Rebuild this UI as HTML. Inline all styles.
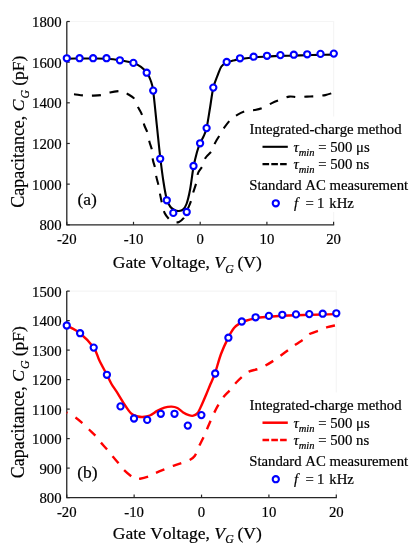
<!DOCTYPE html><html><head><meta charset="utf-8"><style>html,body{margin:0;padding:0;background:#fff;}svg{display:block;}text{stroke:#000;stroke-width:0.2px;font-kerning:none;font-feature-settings:"kern" 0;}</style></head><body>
<svg width="416" height="550" viewBox="0 0 416 550" font-family="'Liberation Serif', 'Times New Roman', serif" fill="#000">
<rect width="416" height="550" fill="#fff"/>
<path d="M66.80,21.50 H333.60 V116.50 M333.60,212.00 V224.80" fill="none" stroke="#f5f5f5" stroke-width="1.2"/>
<path d="M66.80,21.50 L66.80,224.80 L334.20,224.80" fill="none" stroke="#262626" stroke-width="1.3"/>
<line x1="66.80" y1="224.80" x2="69.80" y2="224.80" stroke="#262626" stroke-width="1.2"/>
<text x="61.6" y="230.30" text-anchor="end" font-size="14.75">800</text>
<line x1="66.80" y1="184.14" x2="69.80" y2="184.14" stroke="#262626" stroke-width="1.2"/>
<text x="61.6" y="189.64" text-anchor="end" font-size="14.75">1000</text>
<line x1="66.80" y1="143.48" x2="69.80" y2="143.48" stroke="#262626" stroke-width="1.2"/>
<text x="61.6" y="148.98" text-anchor="end" font-size="14.75">1200</text>
<line x1="66.80" y1="102.82" x2="69.80" y2="102.82" stroke="#262626" stroke-width="1.2"/>
<text x="61.6" y="108.32" text-anchor="end" font-size="14.75">1400</text>
<line x1="66.80" y1="62.16" x2="69.80" y2="62.16" stroke="#262626" stroke-width="1.2"/>
<text x="61.6" y="67.66" text-anchor="end" font-size="14.75">1600</text>
<line x1="66.80" y1="21.50" x2="69.80" y2="21.50" stroke="#262626" stroke-width="1.2"/>
<text x="61.6" y="27.00" text-anchor="end" font-size="14.75">1800</text>
<line x1="66.80" y1="224.80" x2="66.80" y2="221.80" stroke="#262626" stroke-width="1.2"/>
<text x="66.80" y="244.00" text-anchor="middle" font-size="14.75">-20</text>
<line x1="133.50" y1="224.80" x2="133.50" y2="221.80" stroke="#262626" stroke-width="1.2"/>
<text x="133.50" y="244.00" text-anchor="middle" font-size="14.75">-10</text>
<line x1="200.20" y1="224.80" x2="200.20" y2="221.80" stroke="#262626" stroke-width="1.2"/>
<text x="200.20" y="244.00" text-anchor="middle" font-size="14.75">0</text>
<line x1="266.90" y1="224.80" x2="266.90" y2="221.80" stroke="#262626" stroke-width="1.2"/>
<text x="266.90" y="244.00" text-anchor="middle" font-size="14.75">10</text>
<line x1="333.60" y1="224.80" x2="333.60" y2="221.80" stroke="#262626" stroke-width="1.2"/>
<text x="333.60" y="244.00" text-anchor="middle" font-size="14.75">20</text>
<path d="M66.80,58.70 C68.92,58.67 75.13,58.53 79.50,58.50 C83.87,58.47 88.52,58.45 93.00,58.50 C97.48,58.55 101.92,58.50 106.40,58.80 C110.88,59.10 115.40,59.60 119.90,60.30 C124.40,61.00 129.88,61.92 133.40,63.00 C136.92,64.08 138.78,65.20 141.00,66.80 C143.22,68.40 145.12,70.40 146.70,72.60 C148.28,74.80 149.43,77.03 150.50,80.00 C151.57,82.97 152.05,82.90 153.10,90.40 C154.15,97.90 155.62,113.90 156.80,125.00 C157.98,136.10 159.08,147.50 160.20,157.00 C161.32,166.50 162.40,174.92 163.50,182.00 C164.60,189.08 165.63,195.33 166.80,199.50 C167.97,203.67 169.13,205.20 170.50,207.00 C171.87,208.80 173.58,209.63 175.00,210.30 C176.42,210.97 177.67,211.13 179.00,211.00 C180.33,210.87 181.75,210.67 183.00,209.50 C184.25,208.33 185.33,207.25 186.50,204.00 C187.67,200.75 188.83,196.17 190.00,190.00 C191.17,183.83 192.33,173.33 193.50,167.00 C194.67,160.67 195.92,155.95 197.00,152.00 C198.08,148.05 198.92,145.88 200.00,143.30 C201.08,140.72 202.40,139.05 203.50,136.50 C204.60,133.95 205.52,132.75 206.60,128.00 C207.68,123.25 208.88,114.72 210.00,108.00 C211.12,101.28 212.00,93.23 213.30,87.70 C214.60,82.17 216.45,78.33 217.80,74.80 C219.15,71.27 219.95,68.53 221.40,66.50 C222.85,64.47 224.57,63.58 226.50,62.60 C228.43,61.62 230.75,61.18 233.00,60.60 C235.25,60.02 236.63,59.62 240.00,59.10 C243.37,58.58 248.77,57.92 253.20,57.50 C257.63,57.08 262.12,56.87 266.60,56.60 C271.08,56.33 275.60,56.07 280.10,55.90 C284.60,55.73 289.12,55.72 293.60,55.60 C298.08,55.48 302.52,55.32 307.00,55.20 C311.48,55.08 316.07,55.00 320.50,54.90 C324.93,54.80 331.42,54.65 333.60,54.60" fill="none" stroke="#000" stroke-width="2.1" stroke-linejoin="round"/>
<path d="M66.80,93.80 C68.00,93.87 71.30,93.93 74.00,94.20 C76.70,94.47 80.00,95.17 83.00,95.40 C86.00,95.63 89.00,95.65 92.00,95.60 C95.00,95.55 98.00,95.62 101.00,95.10 C104.00,94.58 107.07,93.17 110.00,92.50 C112.93,91.83 116.43,91.27 118.60,91.10 C120.77,90.93 121.53,91.05 123.00,91.50 C124.47,91.95 125.47,92.55 127.40,93.80 C129.33,95.05 132.80,96.73 134.60,99.00 C136.40,101.27 136.92,104.65 138.20,107.40 C139.48,110.15 141.32,112.63 142.30,115.50 C143.28,118.37 143.20,121.63 144.10,124.60 C145.00,127.57 146.80,130.40 147.70,133.30 C148.60,136.20 148.80,139.23 149.50,142.00 C150.20,144.77 151.33,146.90 151.90,149.90 C152.47,152.90 152.37,156.98 152.90,160.00 C153.43,163.02 154.53,165.23 155.10,168.00 C155.67,170.77 155.70,173.60 156.30,176.60 C156.90,179.60 158.03,182.87 158.70,186.00 C159.37,189.13 159.75,192.52 160.30,195.40 C160.85,198.28 161.30,200.42 162.00,203.30 C162.70,206.18 163.27,210.02 164.50,212.70 C165.73,215.38 167.82,217.85 169.40,219.40 C170.98,220.95 172.40,221.58 174.00,222.00 C175.60,222.42 177.40,222.53 179.00,221.90 C180.60,221.27 182.43,219.68 183.60,218.20 C184.77,216.72 185.22,214.75 186.00,213.00 C186.78,211.25 187.43,209.78 188.30,207.70 C189.17,205.62 190.42,202.92 191.20,200.50 C191.98,198.08 192.17,196.10 193.00,193.20 C193.83,190.30 195.35,186.47 196.20,183.10 C197.05,179.73 197.02,175.88 198.10,173.00 C199.18,170.12 201.45,168.35 202.70,165.80 C203.95,163.25 204.00,160.27 205.60,157.70 C207.20,155.13 210.70,152.90 212.30,150.40 C213.90,147.90 213.75,145.58 215.20,142.70 C216.65,139.82 219.57,135.50 221.00,133.10 C222.43,130.70 222.20,130.55 223.80,128.30 C225.40,126.05 228.35,121.85 230.60,119.60 C232.85,117.35 234.73,116.23 237.30,114.80 C239.87,113.37 243.12,111.80 246.00,111.00 C248.88,110.20 251.88,110.50 254.60,110.00 C257.32,109.50 259.42,109.15 262.30,108.00 C265.18,106.85 268.97,104.45 271.90,103.10 C274.83,101.75 277.02,100.98 279.90,99.90 C282.78,98.82 286.32,97.07 289.20,96.60 C292.08,96.13 294.25,97.10 297.20,97.10 C300.15,97.10 303.83,96.75 306.90,96.60 C309.97,96.45 312.53,96.45 315.60,96.20 C318.67,95.95 322.35,95.68 325.30,95.10 C328.25,94.52 331.97,93.10 333.30,92.70" fill="none" stroke="#000" stroke-width="2.1" stroke-dasharray="9 9" stroke-dashoffset="10.8"/>
<circle cx="66.80" cy="58.30" r="3.1" fill="#fff" stroke="#0000ff" stroke-width="2.1"/>
<circle cx="79.60" cy="58.20" r="3.1" fill="#fff" stroke="#0000ff" stroke-width="2.1"/>
<circle cx="93.10" cy="58.20" r="3.1" fill="#fff" stroke="#0000ff" stroke-width="2.1"/>
<circle cx="106.50" cy="58.20" r="3.1" fill="#fff" stroke="#0000ff" stroke-width="2.1"/>
<circle cx="119.90" cy="60.30" r="3.1" fill="#fff" stroke="#0000ff" stroke-width="2.1"/>
<circle cx="133.40" cy="62.90" r="3.1" fill="#fff" stroke="#0000ff" stroke-width="2.1"/>
<circle cx="146.70" cy="72.70" r="3.1" fill="#fff" stroke="#0000ff" stroke-width="2.1"/>
<circle cx="153.20" cy="90.60" r="3.1" fill="#fff" stroke="#0000ff" stroke-width="2.1"/>
<circle cx="160.20" cy="158.80" r="3.1" fill="#fff" stroke="#0000ff" stroke-width="2.1"/>
<circle cx="166.80" cy="200.30" r="3.1" fill="#fff" stroke="#0000ff" stroke-width="2.1"/>
<circle cx="173.30" cy="212.90" r="3.1" fill="#fff" stroke="#0000ff" stroke-width="2.1"/>
<circle cx="186.70" cy="212.00" r="3.1" fill="#fff" stroke="#0000ff" stroke-width="2.1"/>
<circle cx="193.50" cy="166.00" r="3.1" fill="#fff" stroke="#0000ff" stroke-width="2.1"/>
<circle cx="200.10" cy="143.30" r="3.1" fill="#fff" stroke="#0000ff" stroke-width="2.1"/>
<circle cx="206.60" cy="128.10" r="3.1" fill="#fff" stroke="#0000ff" stroke-width="2.1"/>
<circle cx="213.30" cy="87.60" r="3.1" fill="#fff" stroke="#0000ff" stroke-width="2.1"/>
<circle cx="226.70" cy="62.00" r="3.1" fill="#fff" stroke="#0000ff" stroke-width="2.1"/>
<circle cx="240.00" cy="58.30" r="3.1" fill="#fff" stroke="#0000ff" stroke-width="2.1"/>
<circle cx="253.60" cy="56.70" r="3.1" fill="#fff" stroke="#0000ff" stroke-width="2.1"/>
<circle cx="267.00" cy="55.80" r="3.1" fill="#fff" stroke="#0000ff" stroke-width="2.1"/>
<circle cx="280.40" cy="55.10" r="3.1" fill="#fff" stroke="#0000ff" stroke-width="2.1"/>
<circle cx="293.80" cy="54.70" r="3.1" fill="#fff" stroke="#0000ff" stroke-width="2.1"/>
<circle cx="307.20" cy="54.30" r="3.1" fill="#fff" stroke="#0000ff" stroke-width="2.1"/>
<circle cx="320.50" cy="53.90" r="3.1" fill="#fff" stroke="#0000ff" stroke-width="2.1"/>
<circle cx="333.80" cy="53.60" r="3.1" fill="#fff" stroke="#0000ff" stroke-width="2.1"/>
<text x="249.6" y="133.80" font-size="14.75">Integrated-charge method</text>
<line x1="262.5" y1="146.80" x2="287.8" y2="146.80" stroke="#000" stroke-width="2.1"/>
<text x="293.5" y="151.80" font-size="14.75"><tspan font-style="italic">τ</tspan><tspan font-style="italic" font-size="10.5" dy="4.0">min</tspan><tspan dy="-4.0"> = 500 μs</tspan></text>
<line x1="262.5" y1="164.10" x2="287.8" y2="164.10" stroke="#000" stroke-width="2.1" stroke-dasharray="6.6 2.2"/>
<text x="293.5" y="169.10" font-size="14.75"><tspan font-style="italic">τ</tspan><tspan font-style="italic" font-size="10.5" dy="4.0">min</tspan><tspan dy="-4.0"> = 500 ns</tspan></text>
<text x="249.2" y="190.30" font-size="14.75">Standard AC measurement</text>
<circle cx="275.8" cy="203.30" r="3.1" fill="#fff" stroke="#0000ff" stroke-width="2.1"/>
<text x="294.1" y="208.20" font-size="14.75" font-style="italic">f</text>
<text x="305.6" y="208.20" font-size="14.75">=</text>
<text x="317.1" y="208.20" font-size="14.75">1</text>
<text x="329.3" y="208.20" font-size="14.75">kHz</text>
<text x="112.78" y="268.00" font-size="17.5">Gate Voltage, <tspan font-style="italic">V</tspan></text>
<text x="225.35" y="272.90" font-size="11.8" font-style="italic">G</text>
<text x="237.43" y="268.00" font-size="17.5">(V)</text>
<g transform="translate(24.0,0) rotate(-90)"><text x="-207.63" y="0.00" font-size="17.9">Capacitance,</text><text x="-111.17" y="0.00" font-size="17.5" font-style="italic">C</text><text x="-98.45" y="4.90" font-size="11.8" font-style="italic">G</text><text x="-85.77" y="0.00" font-size="17.5">(pF)</text></g>
<text x="77.43" y="205.40" font-size="17.5">(a)</text>
<path d="M66.75,291.10 H336.30 V392.50 M336.30,488.00 V497.60" fill="none" stroke="#f5f5f5" stroke-width="1.2"/>
<path d="M66.75,291.10 L66.75,497.60 L336.90,497.60" fill="none" stroke="#262626" stroke-width="1.3"/>
<line x1="66.75" y1="497.60" x2="69.75" y2="497.60" stroke="#262626" stroke-width="1.2"/>
<text x="61.6" y="503.10" text-anchor="end" font-size="14.75">800</text>
<line x1="66.75" y1="468.10" x2="69.75" y2="468.10" stroke="#262626" stroke-width="1.2"/>
<text x="61.6" y="473.60" text-anchor="end" font-size="14.75">900</text>
<line x1="66.75" y1="438.60" x2="69.75" y2="438.60" stroke="#262626" stroke-width="1.2"/>
<text x="61.6" y="444.10" text-anchor="end" font-size="14.75">1000</text>
<line x1="66.75" y1="409.10" x2="69.75" y2="409.10" stroke="#262626" stroke-width="1.2"/>
<text x="61.6" y="414.60" text-anchor="end" font-size="14.75">1100</text>
<line x1="66.75" y1="379.60" x2="69.75" y2="379.60" stroke="#262626" stroke-width="1.2"/>
<text x="61.6" y="385.10" text-anchor="end" font-size="14.75">1200</text>
<line x1="66.75" y1="350.10" x2="69.75" y2="350.10" stroke="#262626" stroke-width="1.2"/>
<text x="61.6" y="355.60" text-anchor="end" font-size="14.75">1300</text>
<line x1="66.75" y1="320.60" x2="69.75" y2="320.60" stroke="#262626" stroke-width="1.2"/>
<text x="61.6" y="326.10" text-anchor="end" font-size="14.75">1400</text>
<line x1="66.75" y1="291.10" x2="69.75" y2="291.10" stroke="#262626" stroke-width="1.2"/>
<text x="61.6" y="296.60" text-anchor="end" font-size="14.75">1500</text>
<line x1="66.75" y1="497.60" x2="66.75" y2="494.60" stroke="#262626" stroke-width="1.2"/>
<text x="66.75" y="516.80" text-anchor="middle" font-size="14.75">-20</text>
<line x1="134.14" y1="497.60" x2="134.14" y2="494.60" stroke="#262626" stroke-width="1.2"/>
<text x="134.14" y="516.80" text-anchor="middle" font-size="14.75">-10</text>
<line x1="201.53" y1="497.60" x2="201.53" y2="494.60" stroke="#262626" stroke-width="1.2"/>
<text x="201.53" y="516.80" text-anchor="middle" font-size="14.75">0</text>
<line x1="268.91" y1="497.60" x2="268.91" y2="494.60" stroke="#262626" stroke-width="1.2"/>
<text x="268.91" y="516.80" text-anchor="middle" font-size="14.75">10</text>
<line x1="336.30" y1="497.60" x2="336.30" y2="494.60" stroke="#262626" stroke-width="1.2"/>
<text x="336.30" y="516.80" text-anchor="middle" font-size="14.75">20</text>
<path d="M66.75,325.60 C68.96,326.87 75.51,329.55 80.00,333.20 C84.49,336.85 90.48,343.00 93.70,347.50 C96.92,352.00 97.12,355.67 99.30,360.20 C101.48,364.73 104.77,370.73 106.80,374.70 C108.83,378.67 109.87,381.17 111.50,384.00 C113.13,386.83 114.55,388.48 116.60,391.70 C118.65,394.92 121.38,399.68 123.80,403.30 C126.22,406.92 128.68,411.20 131.10,413.40 C133.52,415.60 136.38,415.90 138.30,416.50 C140.22,417.10 140.68,417.17 142.60,417.00 C144.52,416.83 147.37,416.52 149.80,415.50 C152.23,414.48 154.77,412.22 157.20,410.90 C159.63,409.58 162.00,408.32 164.40,407.60 C166.80,406.88 169.43,406.53 171.60,406.60 C173.77,406.67 175.47,407.03 177.40,408.00 C179.33,408.97 181.28,411.20 183.20,412.40 C185.12,413.60 187.22,414.65 188.90,415.20 C190.58,415.75 191.85,416.05 193.30,415.70 C194.75,415.35 196.17,414.98 197.60,413.10 C199.03,411.22 200.45,407.53 201.90,404.40 C203.35,401.27 204.87,397.70 206.30,394.30 C207.73,390.90 209.05,387.50 210.50,384.00 C211.95,380.50 213.25,378.30 215.00,373.30 C216.75,368.30 218.78,359.95 221.00,354.00 C223.22,348.05 226.13,341.93 228.30,337.60 C230.47,333.27 232.13,330.33 234.00,328.00 C235.87,325.67 237.67,324.77 239.50,323.60 C241.33,322.43 242.32,321.90 245.00,321.00 C247.68,320.10 251.62,318.90 255.60,318.20 C259.58,317.50 264.45,317.20 268.90,316.80 C273.35,316.40 277.78,316.07 282.30,315.80 C286.82,315.53 291.50,315.35 296.00,315.20 C300.50,315.05 304.85,315.02 309.30,314.90 C313.75,314.78 318.20,314.63 322.70,314.50 C327.20,314.37 334.03,314.17 336.30,314.10" fill="none" stroke="#ff0000" stroke-width="2.4" stroke-linejoin="round"/>
<path d="M66.75,412.50 C68.21,413.33 72.88,415.70 75.50,417.50 C78.12,419.30 80.25,421.30 82.50,423.30 C84.75,425.30 86.83,427.42 89.00,429.50 C91.17,431.58 93.60,433.72 95.50,435.80 C97.40,437.88 98.50,439.75 100.40,442.00 C102.30,444.25 105.02,447.08 106.90,449.30 C108.78,451.52 109.70,452.90 111.70,455.30 C113.70,457.70 116.90,461.30 118.90,463.70 C120.90,466.10 121.50,467.50 123.70,469.70 C125.90,471.90 130.05,475.42 132.10,476.90 C134.15,478.38 134.68,478.28 136.00,478.60 C137.32,478.92 137.85,479.17 140.00,478.80 C142.15,478.43 146.40,477.32 148.90,476.40 C151.40,475.48 152.53,474.43 155.00,473.30 C157.47,472.17 160.65,470.85 163.70,469.60 C166.75,468.35 170.30,466.92 173.30,465.80 C176.30,464.68 179.10,463.78 181.70,462.90 C184.30,462.02 186.70,461.70 188.90,460.50 C191.10,459.30 193.30,457.90 194.90,455.70 C196.50,453.50 197.10,450.30 198.50,447.30 C199.90,444.30 201.98,440.50 203.30,437.70 C204.62,434.90 205.20,433.30 206.40,430.50 C207.60,427.70 209.17,423.92 210.50,420.90 C211.83,417.88 213.05,415.13 214.40,412.40 C215.75,409.67 217.08,407.07 218.60,404.50 C220.12,401.93 221.55,399.45 223.50,397.00 C225.45,394.55 228.22,392.17 230.30,389.80 C232.38,387.43 233.80,385.17 236.00,382.80 C238.20,380.43 241.25,377.52 243.50,375.60 C245.75,373.68 247.05,372.40 249.50,371.30 C251.95,370.20 255.55,369.95 258.20,369.00 C260.85,368.05 262.77,367.03 265.40,365.60 C268.03,364.17 271.37,362.13 274.00,360.40 C276.63,358.67 278.55,357.13 281.20,355.20 C283.85,353.27 287.48,350.58 289.90,348.80 C292.32,347.02 293.30,346.18 295.70,344.50 C298.10,342.82 301.90,340.48 304.30,338.70 C306.70,336.92 307.45,335.23 310.10,333.80 C312.75,332.37 317.32,331.20 320.20,330.10 C323.08,329.00 324.72,328.02 327.40,327.20 C330.08,326.38 334.82,325.53 336.30,325.20" fill="none" stroke="#ff0000" stroke-width="2.4" stroke-dasharray="9 9" stroke-dashoffset="8"/>
<circle cx="66.75" cy="325.50" r="3.1" fill="#fff" stroke="#0000ff" stroke-width="2.1"/>
<circle cx="80.10" cy="333.20" r="3.1" fill="#fff" stroke="#0000ff" stroke-width="2.1"/>
<circle cx="93.70" cy="347.60" r="3.1" fill="#fff" stroke="#0000ff" stroke-width="2.1"/>
<circle cx="106.90" cy="374.80" r="3.1" fill="#fff" stroke="#0000ff" stroke-width="2.1"/>
<circle cx="120.50" cy="406.40" r="3.1" fill="#fff" stroke="#0000ff" stroke-width="2.1"/>
<circle cx="134.00" cy="418.50" r="3.1" fill="#fff" stroke="#0000ff" stroke-width="2.1"/>
<circle cx="147.20" cy="419.90" r="3.1" fill="#fff" stroke="#0000ff" stroke-width="2.1"/>
<circle cx="160.80" cy="413.80" r="3.1" fill="#fff" stroke="#0000ff" stroke-width="2.1"/>
<circle cx="174.50" cy="413.80" r="3.1" fill="#fff" stroke="#0000ff" stroke-width="2.1"/>
<circle cx="187.80" cy="425.60" r="3.1" fill="#fff" stroke="#0000ff" stroke-width="2.1"/>
<circle cx="201.40" cy="415.10" r="3.1" fill="#fff" stroke="#0000ff" stroke-width="2.1"/>
<circle cx="215.20" cy="373.50" r="3.1" fill="#fff" stroke="#0000ff" stroke-width="2.1"/>
<circle cx="228.40" cy="337.70" r="3.1" fill="#fff" stroke="#0000ff" stroke-width="2.1"/>
<circle cx="241.80" cy="321.50" r="3.1" fill="#fff" stroke="#0000ff" stroke-width="2.1"/>
<circle cx="255.60" cy="317.30" r="3.1" fill="#fff" stroke="#0000ff" stroke-width="2.1"/>
<circle cx="268.90" cy="315.90" r="3.1" fill="#fff" stroke="#0000ff" stroke-width="2.1"/>
<circle cx="282.30" cy="314.80" r="3.1" fill="#fff" stroke="#0000ff" stroke-width="2.1"/>
<circle cx="296.00" cy="314.40" r="3.1" fill="#fff" stroke="#0000ff" stroke-width="2.1"/>
<circle cx="309.30" cy="314.10" r="3.1" fill="#fff" stroke="#0000ff" stroke-width="2.1"/>
<circle cx="322.70" cy="313.70" r="3.1" fill="#fff" stroke="#0000ff" stroke-width="2.1"/>
<circle cx="336.30" cy="313.30" r="3.1" fill="#fff" stroke="#0000ff" stroke-width="2.1"/>
<text x="249.6" y="409.70" font-size="14.75">Integrated-charge method</text>
<line x1="262.5" y1="422.70" x2="287.8" y2="422.70" stroke="#ff0000" stroke-width="2.5"/>
<text x="293.5" y="427.70" font-size="14.75"><tspan font-style="italic">τ</tspan><tspan font-style="italic" font-size="10.5" dy="4.0">min</tspan><tspan dy="-4.0"> = 500 μs</tspan></text>
<line x1="262.5" y1="440.00" x2="287.8" y2="440.00" stroke="#ff0000" stroke-width="2.5" stroke-dasharray="6.6 2.2"/>
<text x="293.5" y="445.00" font-size="14.75"><tspan font-style="italic">τ</tspan><tspan font-style="italic" font-size="10.5" dy="4.0">min</tspan><tspan dy="-4.0"> = 500 ns</tspan></text>
<text x="249.2" y="466.20" font-size="14.75">Standard AC measurement</text>
<circle cx="275.8" cy="479.20" r="3.1" fill="#fff" stroke="#0000ff" stroke-width="2.1"/>
<text x="294.1" y="484.10" font-size="14.75" font-style="italic">f</text>
<text x="305.6" y="484.10" font-size="14.75">=</text>
<text x="317.1" y="484.10" font-size="14.75">1</text>
<text x="329.3" y="484.10" font-size="14.75">kHz</text>
<text x="112.78" y="538.50" font-size="17.5">Gate Voltage, <tspan font-style="italic">V</tspan></text>
<text x="225.35" y="543.40" font-size="11.8" font-style="italic">G</text>
<text x="237.43" y="538.50" font-size="17.5">(V)</text>
<g transform="translate(24.0,0) rotate(-90)"><text x="-478.13" y="0.00" font-size="17.9">Capacitance,</text><text x="-381.67" y="0.00" font-size="17.5" font-style="italic">C</text><text x="-368.95" y="4.90" font-size="11.8" font-style="italic">G</text><text x="-356.27" y="0.00" font-size="17.5">(pF)</text></g>
<text x="77.23" y="477.60" font-size="17.5">(b)</text>
</svg></body></html>
